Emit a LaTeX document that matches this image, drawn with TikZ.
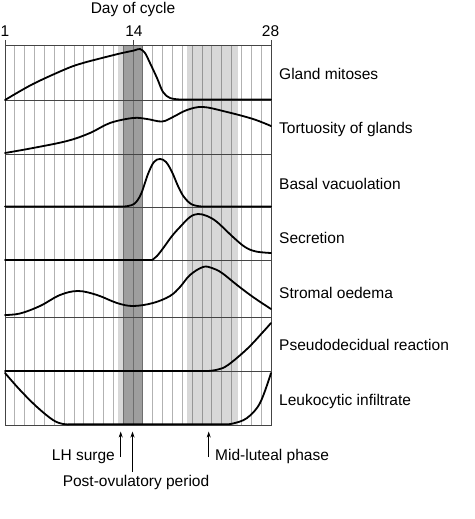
\documentclass[tikz,border=0pt]{standalone}
\usepackage{fontspec}
\setmainfont{Liberation Sans}
\usetikzlibrary{arrows.meta}
\definecolor{lightband}{HTML}{D8D8D8}
\definecolor{darkband}{HTML}{9E9E9E}
\definecolor{framecol}{HTML}{444444}
\begin{document}
\begin{tikzpicture}[x=1pt,y=-1pt,
  lbl/.style={font=\fontsize{15.5}{18}\selectfont, inner sep=0pt},
  gridline/.style={black, opacity=0.3, line width=0.9pt},
  sepline/.style={framecol, line width=0.8pt},
  curve/.style={black, line width=1.8pt, line join=round, line cap=round},
  uparrow/.style={black, line width=0.9pt, -{Stealth[length=6pt,width=4pt]}},
  tickmark/.style={framecol, line width=0.8pt}]
\useasboundingbox (0,0) rectangle (474,519);
\fill[white] (0,0) rectangle (474,519);
% bands
\fill[lightband] (117.5,45) rectangle (122.5,425);
\fill[darkband] (122.5,45) rectangle (142.7,425);
\fill[lightband] (187,45) rectangle (237.5,425);
% vertical grid
\foreach \i in {1,...,26} \draw[gridline] ({5+\i*9.852},45) -- ({5+\i*9.852},425);
% row separators
\foreach \yy in {100,154,207,260,317,371} \draw[sepline] (5,\yy) -- (271,\yy);
\draw[sepline] (5,45) rectangle (271,425);
% ticks
\draw[tickmark] (5,40) -- (5,45);
\draw[tickmark] (133.1,40) -- (133.1,45);
\draw[tickmark] (271,40) -- (271,45);
% top labels
\node[lbl, anchor=base] (title) at (133,13.5) {Day of cycle};
\node[lbl, anchor=base] (d1) at (5,37) {1};
\node[lbl, anchor=base] (d14) at (134,37) {14};
\node[lbl, anchor=base] (d28) at (270.5,37) {28};
% curves
% 1 Gland mitoses
\draw[curve] plot[smooth, tension=0.55] coordinates {(5,100) (33,84) (67,68.5) (83,63) (100,58.5) (120,53.5) (134,50.5) (140,49) (145,53) (150,63) (157,78) (163,92) (170,98) (180,99.5)} -- (271,99.5);
% 2 Tortuosity
\draw[curve] plot[smooth, tension=0.6] coordinates {(5,153) (33,148) (67,141) (90,133) (110,123) (133,118) (147,119) (162,121.5) (173,117) (187,110) (203,107) (227,112) (253,119) (271,126)};
% 3 Basal vacuolation
\draw[curve] (5,206.5) -- (124,206.5) plot[smooth, tension=0.6] coordinates {(124,206.5) (134,204) (141,194) (148,174) (154,162) (160,159) (166,162) (172,172) (178,186) (184,197) (192,204.5) (202,206.5)} -- (271,206.5);
% 4 Secretion
\draw[curve] (5,260) -- (152,260) plot[smooth, tension=0.6] coordinates {(152,260) (157,256) (164,247) (172,236) (180,227) (190,217) (198,214) (207,216) (217,222) (233,237) (245,247) (256,251.5) (271,253)};
% 5 Stromal oedema
\draw[curve] plot[smooth, tension=0.6] coordinates {(5,315) (20,313.5) (40,306) (60,295) (78,291) (97,295) (117,303) (133,306) (153,303) (170,296) (180,287) (190,275) (203,267) (212,268) (222,273) (237,285) (253,297) (271,309)};
% 6 Pseudodecidual
\draw[curve] (5,371) -- (208,371) plot[smooth, tension=0.6] coordinates {(208,371) (218,369.5) (228,365) (247,349) (263,332) (271,323)};
% 7 Leukocytic
\draw[curve] plot[smooth, tension=0.6] coordinates {(5,373) (20,390) (37,407) (53,420) (63,424) (70,424.3)} -- (225,424.3) plot[smooth, tension=0.6] coordinates {(225,424.3) (233,423.5) (247,418) (260,403) (271,373)};
% right labels
\node[lbl, anchor=base west] (l1) at (279,79) {Gland mitoses};
\node[lbl, anchor=base west] (l2) at (279,133) {Tortuosity of glands};
\node[lbl, anchor=base west] (l3) at (279,189) {Basal vacuolation};
\node[lbl, anchor=base west] (l4) at (279,243) {Secretion};
\node[lbl, anchor=base west] (l5) at (279,298) {Stromal oedema};
\node[lbl, anchor=base west] (l6) at (279,350) {Pseudodecidual reaction};
\node[lbl, anchor=base west] (l7) at (279,405.5) {Leukocytic infiltrate};
% bottom labels and arrows
\node[lbl, anchor=base east] (lh) at (115,460) {LH surge};
\node[lbl, anchor=base] (po) at (136,486.5) {Post-ovulatory period};
\node[lbl, anchor=base west] (ml) at (215,460) {Mid-luteal phase};
\coordinate (lhTail) at (120.7,457);
\coordinate (lhTip) at (120.7,431.5);
\coordinate (poTail) at (132.5,472);
\coordinate (poTip) at (132.5,431.5);
\coordinate (mlTail) at (208.7,457);
\coordinate (mlTip) at (208.7,431.5);
\draw[uparrow] (lhTail) -- (lhTip);
\draw[uparrow] (poTail) -- (poTip);
\draw[uparrow] (mlTail) -- (mlTip);
\end{tikzpicture}
\end{document}
